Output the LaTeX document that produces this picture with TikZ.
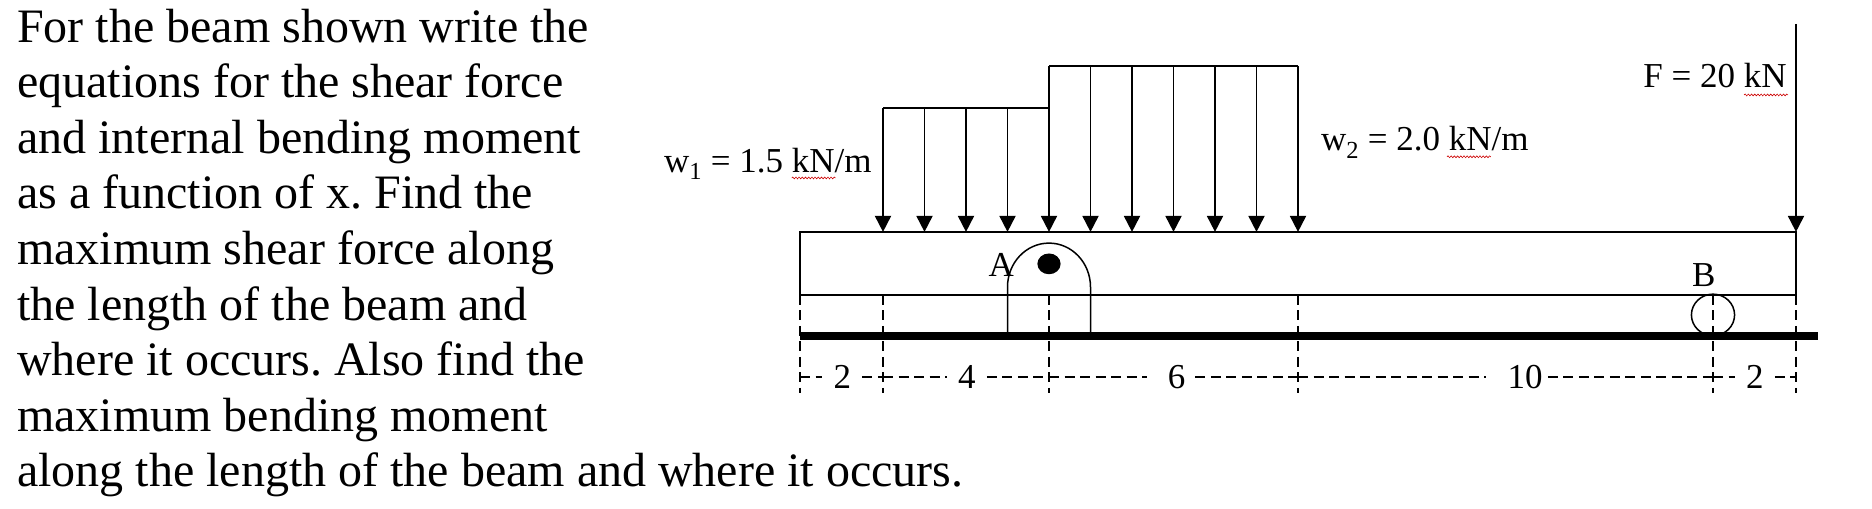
\documentclass[tikz,border=0pt]{standalone}
\usepackage{fontspec}
\setmainfont{Liberation Serif}
\usetikzlibrary{arrows.meta,positioning,decorations.pathmorphing}
\tikzset{every node/.append style={inner sep=0pt}}
\tikzset{load/.style={line width=1.9pt,-{Triangle[length=16pt,width=16pt]}}}
\tikzset{dimline/.style={line width=1.5pt,dash pattern=on 10pt off 5.5pt}}
\tikzset{spell/.style={red!80!black,line width=.6pt,decorate,decoration={snake,amplitude=.9pt,segment length=3.2pt}}}
\tikzset{lab/.style={font=\fontsize{35}{38}\selectfont}}
\tikzset{dimlab/.style={lab,inner xsep=11pt}}

\begin{document}
\frenchspacing
\begin{tikzpicture}[x=41.5pt,y=41.5pt]
  \useasboundingbox (-19.277,-5.133) rectangle (25.831,7.108);

  \node[anchor=north west,align=left,font=\fontsize{48}{55.6}\selectfont] (task) at (-18.87,6.9)
    {For the beam shown write the\\
     equations for the shear force\\
     and internal bending moment\\
     as a function of x. Find the\\
     maximum shear force along\\
     the length of the beam and\\
     where it occurs. Also find the\\
     maximum bending moment\\
     along the length of the beam and where it occurs.};

  % distributed load
  \draw[line width=1.9pt] (2,4.5)--(6,4.5);
  \draw[line width=1.9pt] (6,5.52)--(12,5.52);
  \foreach \x in {2,3,4,5}{
    \draw[load] (\x,4.5)--(\x,1.52);
  }
  \foreach \x in {6,7,8,9,10,11,12}{
    \draw[load] (\x,5.52)--(\x,1.52);
  }
  \draw[load] (24,6.53)--(24,1.52);

  % beam
  \draw[line width=1.9pt] (0,0) rectangle (24,1.52);

  % supports
  \draw[line width=1.5pt] (5,-.9)--(5,.19) arc[start angle=180,end angle=0,x radius=1,y radius=1.06]--(7,-.9);
  \fill (6,.75) ellipse[x radius=.28,y radius=.25];
  \draw[line width=1.5pt] (22,-.48) ellipse[x radius=.52,y radius=.5];

  % dimension lines
  \foreach \x in {0,2,6,12,22,24}{
    \coordinate (d\x) at (\x,-1.98);
    \draw[dimline] (\x,0)--(\x,-2.36);
  }
  \draw[line width=8pt] (0,-1)--(24.53,-1);

  \node[dimlab] (dima) at (1.02,-1.98) {2};
  \node[dimlab] (dimb) at (4.02,-1.98) {4};
  \node[lab] (dimc) at (8.94,-1.98) {\kern21pt 6\kern10pt};
  \node[lab] (dimd) at (17.28,-1.98) {\kern21pt 10\kern5pt};
  \node[dimlab] (dime) at (23.01,-1.98) {2};
  \draw[dimline] (d0)--(dima);
  \draw[dimline] (dima)--(d2);
  \draw[dimline] (d2)--(dimb);
  \draw[dimline] (dimb)--(d6);
  \draw[dimline] (d6)--(dimc);
  \draw[dimline] (dimc)--(d12);
  \draw[dimline] (d12)--(dimd);
  \draw[dimline] (dimd)--(d22);
  \draw[dimline] (d22)--(dime);
  \draw[dimline] (dime)--(d24);

  % labels
  \node[lab] (ptA) at (4.85,.73) {A};
  \node[lab] (ptB) at (21.78,.48) {B};
  \node[lab,anchor=base east] (wone) at (1.73,2.96) {w\textsubscript{1} = 1.5 kN/m};
  \node[lab,anchor=base west] (wtwo) at (12.55,3.47) {w\textsubscript{2} = 2.0 kN/m};
  \node[lab,anchor=base east] (force) at (23.78,4.99) {F = 20 kN};
  \draw[spell] (-.2,2.82)--(.86,2.82);
  \draw[spell] (15.59,3.33)--(16.65,3.33);
  \draw[spell] (22.75,4.82)--(23.81,4.82);
\end{tikzpicture}
\end{document}
